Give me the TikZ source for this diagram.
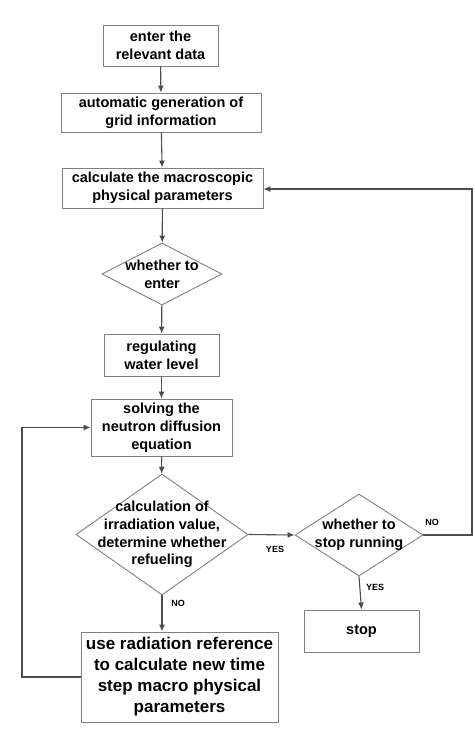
\documentclass[tikz,border=0pt]{standalone}
\usepackage{fontspec}
\setmainfont{Liberation Sans}
\usetikzlibrary{shapes.geometric,arrows.meta}
\begin{document}
\begin{tikzpicture}[x=1pt,y=-1pt,
  boxstyle/.style={draw=black!50,line width=0.9pt,rectangle,inner sep=0pt,align=center,
    font=\fontsize{14.5}{17.8}\selectfont\bfseries},
  bigbox/.style={boxstyle,font=\fontsize{17}{21}\selectfont\bfseries},
  decision/.style={draw=black!50,line width=0.9pt,diamond,inner sep=0pt},
  dtext/.style={align=center,inner sep=0pt,font=\fontsize{14.5}{17.8}\selectfont\bfseries},
  lbl/.style={inner sep=0pt,font=\fontsize{9}{10}\selectfont\bfseries},
  arr/.style={draw=black!70,line width=1.1pt,-{Latex[length=7pt,width=6pt]}},
  ln/.style={draw=black!70,line width=1.1pt}]
\useasboundingbox (0,0) rectangle (474,746);
\node[boxstyle,minimum width=115,minimum height=41] (b1) at (160.5,45.5) {enter the\\relevant data};
\node[boxstyle,minimum width=200,minimum height=39] (b2) at (161,112.5) {automatic generation of\\grid information};
\node[boxstyle,minimum width=201,minimum height=40] (b3) at (162.5,188) {calculate the macroscopic\\physical parameters};
\node[decision,minimum width=120,minimum height=62] (d1) at (162,274) {};
\node[dtext] (d1t) at (d1) {whether to\\enter};
\node[boxstyle,minimum width=115,minimum height=42] (b4) at (161.5,355) {regulating\\water level};
\node[boxstyle,minimum width=141,minimum height=57] (b5) at (161.5,427.5) {solving the\\neutron diffusion\\equation};
\node[decision,minimum width=172,minimum height=121] (d2) at (162,534.5) {};
\node[dtext] (d2t) at (d2) {calculation of\\irradiation value,\\determine whether\\refueling};
\node[decision,minimum width=128,minimum height=82] (d3) at (359,535) {};
\node[dtext] (d3t) at (d3) {whether to\\stop running};
\node[boxstyle,minimum width=115,minimum height=42] (b7) at (361.5,631) {stop};
\node[bigbox,minimum width=197,minimum height=90] (b6) at (179.5,677) {use radiation reference\\to calculate new time\\step macro physical\\parameters};
\coordinate (r1) at (472,535);
\coordinate (r2) at (472,189);
\coordinate (l1) at (22,677);
\coordinate (l2) at (22,427.5);
\draw[arr] (b1) -- (b2);
\draw[arr] (b2) -- (b3);
\draw[arr] (b3) -- (d1);
\draw[arr] (d1) -- (b4);
\draw[arr] (b4) -- (b5);
\draw[arr] (b5) -- (d2);
\draw[arr] (d2.east) -- (d3.west);
\draw[arr] (d3.south) -- (b7.north);
\draw[arr] (d2.south) -- (d2.south |- b6.north);
\draw[arr] (d3.east) -- (r1) -- (r2) -- (b3.east |- r2);
\draw[arr] (b6.west) -- (l1) -- (l2) -- (b5.west);
\node[lbl] (yes1) at (275,549) {YES};
\node[lbl] (no1) at (432,522) {NO};
\node[lbl] (yes2) at (375,587) {YES};
\node[lbl] (no2) at (178,603) {NO};
\end{tikzpicture}
\end{document}
